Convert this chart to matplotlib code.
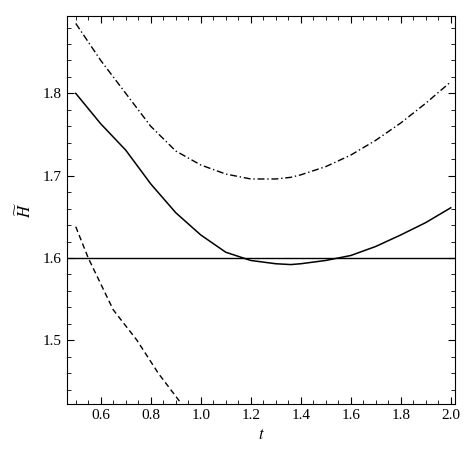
import matplotlib
matplotlib.use("Agg")
import matplotlib.pyplot as plt
from matplotlib.ticker import MultipleLocator

plt.rcParams['font.family'] = ['Liberation Serif', 'DejaVu Serif']
plt.rcParams['mathtext.fontset'] = 'stix'

t_grid = [0.5,0.6,0.7,0.8,0.9,1.0,1.1,1.2,1.3,1.36,1.4,1.5,1.6,1.7,1.8,1.9,2.0]
h_solid = [1.80,1.763,1.731,1.69,1.655,1.628,1.607,1.597,1.593,1.592,1.593,1.597,1.603,1.614,1.628,1.643,1.661]
h_dd = [1.885,1.84,1.80,1.76,1.73,1.713,1.702,1.696,1.696,1.698,1.701,1.711,1.725,1.743,1.764,1.788,1.814]
t_dash = [0.5,0.55,0.65,0.745,0.83,0.92]
h_dash = [1.638,1.60,1.537,1.50,1.46,1.424]
h_const = 1.6

fig = plt.figure(figsize=(4.74,4.66), dpi=100)
ax = fig.add_axes([67/474, 62/466, 388/474, 388/466])
ax.plot(t_grid, h_solid, 'k-', lw=1.1)
ax.plot(t_grid, h_dd, 'k', lw=1.0, dashes=[5, 2, 1, 2])
ax.plot(t_dash, h_dash, 'k', lw=1.0, dashes=[4, 2.5])
ax.axhline(h_const, color='k', lw=1.0)
ax.set_xlim(0.465, 2.017)
ax.set_ylim(1.4226, 1.894)
ax.xaxis.set_major_locator(MultipleLocator(0.2))
ax.xaxis.set_minor_locator(MultipleLocator(0.05))
ax.yaxis.set_major_locator(MultipleLocator(0.1))
ax.yaxis.set_minor_locator(MultipleLocator(0.02))
ax.tick_params(which='both', direction='in', top=True, right=True, labelsize=11)
ax.tick_params(which='major', length=5)
ax.tick_params(which='minor', length=3)
ax.set_xlabel(r'$t$', fontsize=12, labelpad=4)
ax.set_ylabel(r'$\widetilde{H}$', fontsize=12, labelpad=6)
fig.savefig('out.png', dpi=100)
